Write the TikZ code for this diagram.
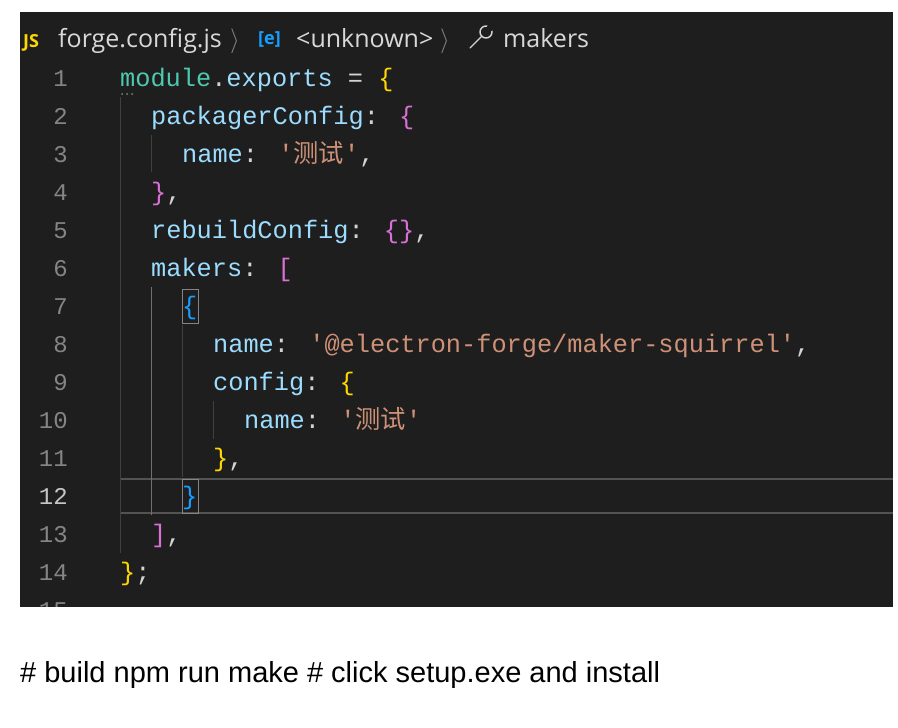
\documentclass[tikz,border=0pt]{standalone}
\usepackage{fontspec}
\usetikzlibrary{calc}
\setmainfont{Liberation Sans}
\newfontfamily\uifont{Open Sans}
\newfontfamily\codefont{Liberation Mono}
\newfontfamily\cjk{Noto Sans CJK SC}
\definecolor{bg}{HTML}{1E1E1E}
\definecolor{kw}{HTML}{9CDCFE}
\definecolor{st}{HTML}{CE9178}
\definecolor{by}{HTML}{FFD700}
\definecolor{bp}{HTML}{DA70D6}
\definecolor{bb}{HTML}{179FFF}
\definecolor{tl}{HTML}{4EC9B0}
\definecolor{ln}{HTML}{858585}
\definecolor{lncur}{HTML}{C6C6C6}
\definecolor{fg}{HTML}{D4D4D4}
\definecolor{guide}{HTML}{404040}
\definecolor{guideact}{HTML}{707070}
\newcommand{\K}[1]{\textcolor{kw}{#1}}
\newcommand{\Sx}[1]{\textcolor{st}{#1}}
\newcommand{\Y}[1]{\textcolor{by}{#1}}
\newcommand{\Pk}[1]{\textcolor{bp}{#1}}
\newcommand{\Bl}[1]{\textcolor{bb}{#1}}
\newcommand{\CJ}{{\cjk 测试}}
\begin{document}
\begin{tikzpicture}[x=1pt,y=-1pt,
  code/.style={anchor=base west,inner sep=0pt,text=fg,font=\codefont\fontsize{25.3}{30}\selectfont},
  num/.style={anchor=base east,inner sep=0pt,text=ln,font=\codefont\fontsize{24}{30}\selectfont},
  crumb/.style={anchor=base west,inner sep=0pt,text=fg!90,font=\uifont\fontsize{25}{28}\selectfont},
  gd/.style={guide,line width=1pt}]
\useasboundingbox (0,0) rectangle (898,728);
\fill[white] (0,0) rectangle (898,728);
\fill[bg] (20,12) rectangle (893,607);
% breadcrumb
\node[anchor=base west,inner sep=0pt,text=by,font=\uifont\bfseries\fontsize{18}{20}\selectfont] (js) at (23,47) {JS};
\node[crumb] (bc1) at (58,47) {forge.config.js};
\node[crumb,text=ln] (sep1) at (230,47) {$\rangle$};
\node[crumb,text=bb,font=\uifont\bfseries\fontsize{18}{20}\selectfont] (sym) at (258,45) {[e]};
\node[crumb] (bc2) at (296,47) {<unknown>};
\node[crumb,text=ln] (sep2) at (440,47) {$\rangle$};
\node[crumb] (bc3) at (503,47) {makers};
\coordinate (wr) at (482,36);
\draw[fg,line width=1.4pt,line cap=round] ($(wr)+(-12,12)$) -- ($(wr)+(0,0)$);
\draw[fg,line width=1.4pt] ($(wr)+(4,-4)$) circle (6);
\fill[bg] ($(wr)+(8,-8)$) circle (3.5);
% line 12 highlight
\draw[guide!90,line width=1.5pt] (120,479) -- (893,479) (120,513) -- (893,513);
% indent guides
\draw[gd] (120,97) -- (120,553);
\draw[gd] (151,135) -- (151,172);
\draw[guideact] (151,287) -- (151,515);
\draw[gd] (182,325) -- (182,477);
\draw[gd] (213,401) -- (213,439);
% line numbers
\foreach \n in {1,...,11,13,14}{
  \node[num] (n\n) at (68,{86+(\n-1)*38}) {\n};
}
\node[num,text=lncur] (n12) at (68,504) {12};
\node[num] (n15) at (68,618) {15};
\fill[white] (0,607) rectangle (898,630);
% code
\node[code] (c1) at (120,86) {\textcolor{tl}{module}.\K{exports} = \Y{\{}};
\node[code] (c2) at (151,124) {\K{packagerConfig}: \Pk{\{}};
\node[code] (c3) at (182,162) {\K{name}: \Sx{'\CJ'},};
\node[code] (c4) at (151,200) {\Pk{\}},};
\node[code] (c5) at (151,238) {\K{rebuildConfig}: \Pk{\{\}},};
\node[code] (c6) at (151,276) {\K{makers}: \Pk{[}};
\node[code] (c7) at (182,314) {\Bl{\{}};
\node[code] (c8) at (213,352) {\K{name}: \Sx{'@electron-forge/maker-squirrel'},};
\node[code] (c9) at (213,390) {\K{config}: \Y{\{}};
\node[code] (c10) at (244,428) {\K{name}: \Sx{'\CJ'}};
\node[code] (c11) at (213,466) {\Y{\}},};
\node[code] (c12) at (182,504) {\Bl{\}}};
\node[code] (c13) at (151,542) {\Pk{]},};
\node[code] (c14) at (120,580) {\Y{\}};};
% bracket boxes
\draw[ln,line width=1pt] (182,289) rectangle (198,323);
\draw[ln,line width=1pt] (182,479) rectangle (198,513);
% ellipsis dots under module
\foreach \xx in {122,127,132}{\fill[ln] (\xx,94) circle (1pt);}
% bottom text
\node[anchor=base west,inner sep=0pt,font=\fontsize{29}{32}\selectfont] (note) at (20,682) {\# build npm run make \# click setup.exe and install};
\end{tikzpicture}
\end{document}
